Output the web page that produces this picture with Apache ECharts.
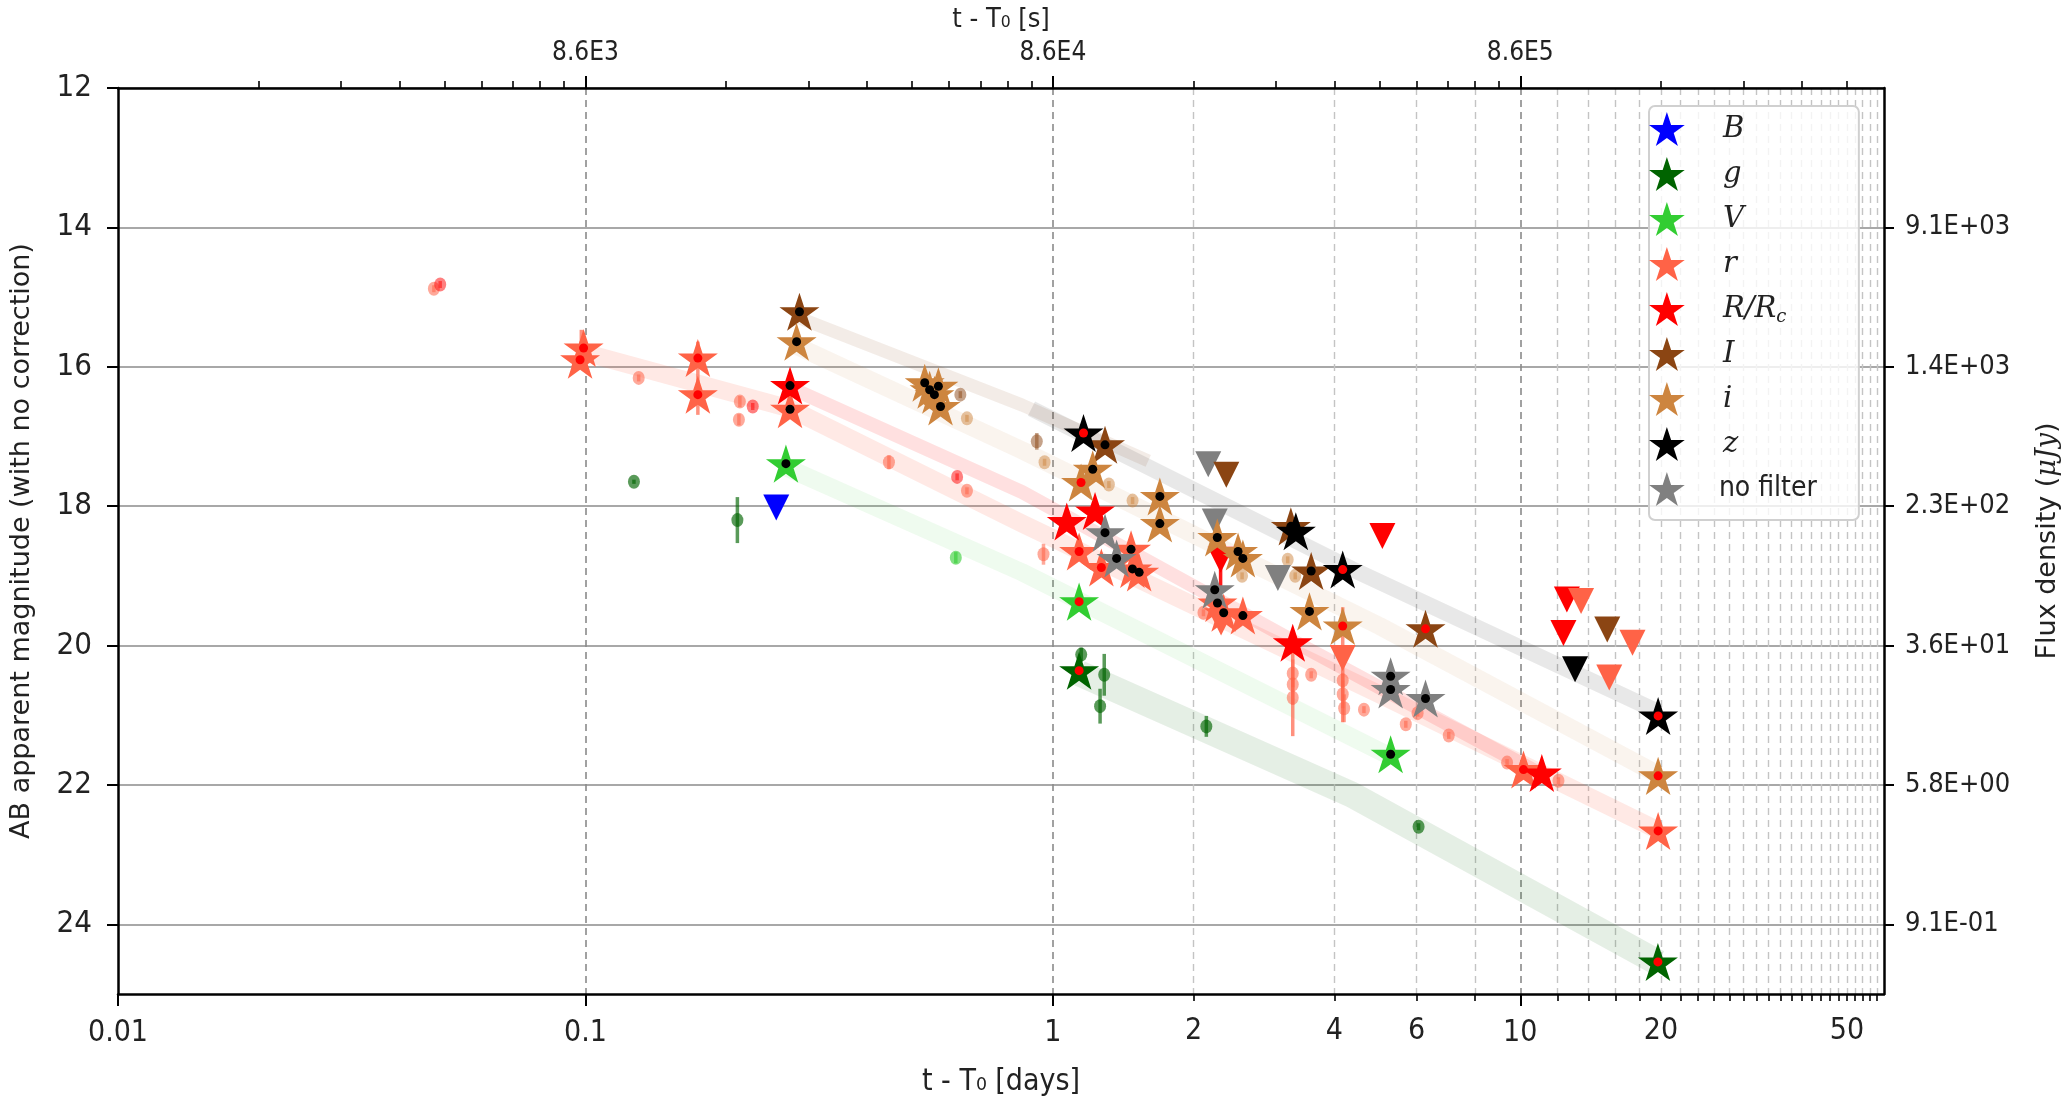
<!DOCTYPE html>
<html><head><meta charset="utf-8">
<script src="https://cdn.jsdelivr.net/npm/echarts@6/dist/echarts.min.js"></script>
<style>html,body{margin:0;padding:0;background:#fff}#c{width:2070px;height:1105px}</style>
</head><body><div id="c"></div>
<script>
// ---------------- DATA ----------------
// axis ticks / labels (t in days)
const xMajorTicks = [0.01, 0.1, 1, 10];
const xMajorLabels = ['0.01', '0.1', '1', '10'];
const xMinorTicks = [2,4,6,8,10,12,14,16,18,20,22,24,26,28,30,32,34,36,38,40,42,44,46,48,50,52,54,56,58];
const xMinorLabelValues = [2, 4, 6, 20, 50];
const xMinorLabels = ['2', '4', '6', '20', '50'];
const topMajorTicks = [0.1, 1, 10];
const topMajorLabels = ['8.6E3', '8.6E4', '8.6E5'];
const topMinorTicks = [0.02,0.03,0.04,0.05,0.06,0.07,0.08,0.09,0.2,0.3,0.4,0.5,0.6,0.7,0.8,0.9,2,3,4,5,6,7,8,9,20,30,40,50];
const gridMajorX = [0.1, 1, 10];
const gridMinorX = [2,4,6,8,12,14,16,18,20,22,24,26,28,30,32,34,36,38,40,42,44,46,48,50,52,54,56,58];
const yTicks = [12, 14, 16, 18, 20, 22, 24];
const fluxTicks = [14, 16, 18, 20, 22, 24];
const fluxLabels = ['9.1E+03', '1.4E+03', '2.3E+02', '3.6E+01', '5.8E+00', '9.1E-01'];

// stars: [t_days, mag, centreDot (0 black, 1 red)]
const starsB = [];
const starsg = [[1.138,20.36,1],[19.7,24.54,1]];
const starsV = [[0.2685,17.39,0],[1.138,19.37,1],[5.28,21.56,0]];
const starsr = [[0.0974,15.90,1],[0.0991,15.73,1],[0.174,15.875,1],[0.174,16.40,1],[0.274,16.61,0],
  [1.138,18.65,1],[1.27,18.88,1],[1.47,18.62,0],[1.48,18.90,0],[1.53,18.95,0],
  [2.25,19.39,0],[2.32,19.53,0],[2.55,19.57,0],[10.16,21.78,1],[19.72,22.66,1]];
const starsR = [[0.274,16.27,0],[1.071,18.22,1],[1.231,18.07,1],[3.26,19.96,1],[11.12,21.83,1]];
const starsI = [[0.287,15.21,0],[1.293,17.12,0],[3.23,18.29,0],[3.57,18.93,0],[6.27,19.76,1]];
const starsi = [[0.283,15.64,0],[0.532,16.23,0],[0.545,16.33,0],[0.558,16.40,0],[0.569,16.28,0],[0.575,16.57,0],
  [1.217,17.47,0],[1.149,17.66,1],[1.694,17.86,0],[1.694,18.25,0],[2.248,18.45,0],[2.49,18.65,0],[2.55,18.75,0],
  [3.54,19.51,0],[4.17,19.72,1],[19.72,21.87,1]];
const starsz = [[1.163,16.95,1],[3.31,18.36,0],[4.17,18.91,1],[19.72,21.01,1]];
const starsNF = [[1.293,18.38,0],[1.369,18.75,0],[2.22,19.20,0],[5.28,20.44,0],[5.28,20.63,0],[6.27,20.76,0]];

// upper limits (triangles): [t_days, mag]
const limB = [[0.256,18.02]];
const limNF = [[2.15,17.40],[2.22,18.22],[3.03,19.03]];
const limI = [[2.35,17.55],[15.35,19.77]];
const limR = [[2.285,18.77],[5.07,18.43],[12.58,19.34],[12.37,19.82]];
const limr = [[2.29,19.67],[4.17,20.18],[13.49,19.36],[17.38,19.96],[15.5,20.46]];
const limz = [[13.1,20.34]];

// other measurements (small points): [t_days, mag, err]
const ptsr = [[0.0474,14.88,0.05],[0.130,16.16,0.05],[0.214,16.50,0.08],[0.213,16.76,0.08],[0.446,17.37,0.1],
  [0.655,17.78,0.05],[0.955,18.69,0.15],[2.10,19.53,0.05],[3.26,20.40,0.2],[3.26,20.56,0.1],[3.26,20.75,0.1],
  [3.57,20.42,0.05],[4.17,20.50,0.1],[4.17,20.70,0.2],[4.2,20.90,0.2],[4.63,20.92,0.05],[5.69,21.13,0.05],
  [6.03,20.97,0.05],[7.03,21.29,0.05],[9.37,21.68,0.05],[12.07,21.94,0.05]];
const ptsR = [[0.0489,14.82,0.05],[0.228,16.57,0.05],[0.624,17.58,0.05]];
const ptsi = [[0.655,16.74,0.05],[0.960,17.37,0.05],[1.318,17.69,0.05],[1.481,17.92,0.05],[2.54,19.0,0.05],[3.18,18.77,0.05],[3.3,19.0,0.05]];
const ptsI = [[0.634,16.40,0.05],[0.924,17.07,0.12]];
const ptsV = [[0.620,18.74,0.08]];
const ptsg = [[0.127,17.65,0.03],[0.2114,18.20,0.33],[1.15,20.13,0.1],[1.288,20.42,0.3],[1.262,20.87,0.25],[2.13,21.16,0.15],[6.06,22.60,0.05]];

// extra error bars: [t_days, magTop, magBottom]
const barsr = [[0.098,15.47,16.0],[0.174,15.64,16.69],[3.26,20.0,21.3],[4.17,19.45,21.1]];
const barsR = [[2.285,18.65,19.25]];

// fitted decay bands: [t_days, mag]
const bandg = [[1.14,20.4],[4.36,22.14],[19.7,24.55]];
const bandV = [[0.27,17.45],[0.86,18.95],[5.3,21.6]];
const bandr = [[0.1,15.8],[0.274,16.6],[0.86,18.25],[5.0,20.7],[19.7,22.65]];
const bandR = [[0.274,16.3],[0.86,17.8],[3.3,19.95],[11.1,21.85]];
const bandI = [[0.287,15.3],[0.86,16.55],[1.6,17.35]];
const bandi = [[0.283,15.7],[0.86,17.2],[5.0,19.72],[19.7,21.85]];
const bandz = [[0.9,16.6],[4.36,18.9],[19.7,20.95]];

// ---------------- STYLE ----------------
const col = {B:'#0000ff', g:'#006400', V:'#32cd32', r:'#ff6347', R:'#ff0000', I:'#8b4513', i:'#cd853f', z:'#000000', nf:'#808080'};
function rgba(hex, a){const n=parseInt(hex.slice(1),16);return 'rgba('+((n>>16)&255)+','+((n>>8)&255)+','+(n&255)+','+a+')';}
const starPath = (function(){let s='path://';for(let k=0;k<10;k++){const a=(-90+k*36)*Math.PI/180;const rr=(k%2===0)?100:38.2;s+=(k===0?'M':'L')+(rr*Math.cos(a)).toFixed(2)+','+(rr*Math.sin(a)).toFixed(2)+' ';}return s+'Z';})();
const triPath = 'path://M-100,-100 L100,-100 L0,100 Z';
const tickFont = "'DejaVu Sans Condensed','DejaVu Sans',sans-serif";
const txt = '#222';

function lookup(vals, labels){return function(v){for(let k=0;k<vals.length;k++){if(Math.abs(Math.log10(v)-Math.log10(vals[k]))<1e-6)return labels[k];}return '';};}

const series = [];
// bands
const bands = [[bandg,col.g,0.10,26],[bandV,col.V,0.08,18],[bandr,col.r,0.14,18],[bandR,col.R,0.12,14],[bandI,col.I,0.10,13],[bandi,col.i,0.09,18],[bandz,col.z,0.09,16]];
bands.forEach(function(b,k){
  const s = {type:'line', data:b[0], showSymbol:false, symbol:'none', silent:true, z:1,
    lineStyle:{color:rgba(b[1],b[2]), width:b[3], cap:'butt', join:'round'}, animation:false};
  if(k===0){
    s.markLine = {silent:true, symbol:'none', label:{show:false}, animation:false, z:0,
      data: gridMajorX.map(function(v){return {xAxis:v, lineStyle:{color:'#8a8a8a', type:[7,5], width:1.6}};})
        .concat(gridMinorX.map(function(v){return {xAxis:v, lineStyle:{color:'#c4c4c4', type:[7,5], width:1.4}};}))};
  }
  series.push(s);
});
// error bars
function errRender(params, api){
  const p1 = api.coord([api.value(0), api.value(1)]);
  const p2 = api.coord([api.value(0), api.value(2)]);
  return {type:'line', shape:{x1:p1[0],y1:p1[1],x2:p2[0],y2:p2[1]}, style:{stroke:api.visual('color'), lineWidth:3.5}};
}
const ptSets = [[ptsr,col.r,0.55],[ptsR,col.R,0.5],[ptsi,col.i,0.5],[ptsI,col.I,0.5],[ptsV,col.V,0.6],[ptsg,col.g,0.65]];
ptSets.forEach(function(p){
  series.push({type:'custom', renderItem:errRender, silent:true, z:2, itemStyle:{color:rgba(p[1],p[2])},
    data:p[0].map(function(d){return [d[0], d[1]-d[2], d[1]+d[2]];}), animation:false});
});
[[barsr,col.r,0.7],[barsR,col.R,0.9]].forEach(function(p){
  series.push({type:'custom', renderItem:errRender, silent:true, z:2, itemStyle:{color:rgba(p[1],p[2])}, data:p[0], animation:false});
});
ptSets.forEach(function(p){
  series.push({type:'scatter', symbol:'circle', symbolSize:[12,14], silent:true, z:3,
    itemStyle:{color:rgba(p[1],p[2]), opacity:1}, data:p[0].map(function(d){return [d[0],d[1]];}), animation:false});
});
// upper limits
[[limB,col.B],[limNF,col.nf],[limI,col.I],[limR,col.R],[limr,col.r],[limz,col.z]].forEach(function(p){
  series.push({type:'scatter', symbol:triPath, symbolSize:[26,26], silent:true, z:4,
    itemStyle:{color:p[1], opacity:1}, data:p[0], animation:false});
});
// stars
const starSets = [['B',starsB,col.B],['g',starsg,col.g],['V',starsV,col.V],['r',starsr,col.r],['R/Rc',starsR,col.R],
  ['I',starsI,col.I],['i',starsi,col.i],['z',starsz,col.z],['no filter',starsNF,col.nf]];
const dots = [];
starSets.forEach(function(s){
  series.push({name:s[0], type:'scatter', symbol:starPath, symbolKeepAspect:true, symbolSize:40, z:5, silent:true,
    itemStyle:{color:s[2], opacity:1}, data:s[1].map(function(d){return [d[0],d[1]];}), animation:false});
  s[1].forEach(function(d){dots.push({value:[d[0],d[1]], itemStyle:{color:d[2]?'#ff0000':'#000000', opacity:1}});});
});
series.push({type:'scatter', symbol:'circle', symbolSize:9, z:6, silent:true, itemStyle:{opacity:1}, data:dots, animation:false});

const legendText = {'B':'{it|B}','g':'{it|g}','V':'{it|V}','r':'{it|r}','R/Rc':'{it|R/R}{sub|c}','I':'{it|I}','i':'{it|i}','z':'{it|z}','no filter':'{nf|no filter}'};

const axisLineStyle = {color:'#000', width:2.5};
const option = {
  animation:false,
  backgroundColor:'#fff',
  grid:{left:113, right:186, top:88, bottom:111, containLabel:false},
  legend:{
    orient:'vertical', left:1649, top:106, padding:[6,42,14,0], itemWidth:86, itemHeight:34, itemGap:11,
    backgroundColor:'rgba(255,255,255,0.8)', borderColor:'#d0d0d0', borderWidth:2, borderRadius:6,
    selectedMode:false, z:20,
    data: starSets.map(function(s){return {name:s[0], icon:starPath, itemStyle:{color:s[2], opacity:1}};}),
    formatter:function(n){return legendText[n];},
    textStyle:{color:txt, lineHeight:34,
      rich:{it:{fontFamily:"'DejaVu Serif','Liberation Serif',serif", fontStyle:'italic', fontSize:29, lineHeight:34, padding:[0,0,0,8], color:txt},
            sub:{fontFamily:"'DejaVu Serif','Liberation Serif',serif", fontStyle:'italic', fontSize:18, lineHeight:34, verticalAlign:'bottom', color:txt},
            nf:{fontFamily:tickFont, fontSize:28, lineHeight:34, padding:[0,0,0,4], color:txt}}}
  },
  xAxis:[
    {type:'log', logBase:10, min:0.01, max:60, position:'bottom',
     name:'t - T₀ [days]', nameLocation:'middle', nameGap:73, nameTextStyle:{fontFamily:tickFont, fontSize:30, color:txt},
     axisLine:{show:true, lineStyle:axisLineStyle}, splitLine:{show:false}, minorTick:{show:false},
     axisTick:{show:true, inside:false, length:12, lineStyle:{color:'#000', width:2}, customValues:xMajorTicks},
     axisLabel:{show:true, margin:24, fontFamily:tickFont, fontSize:30, color:txt, customValues:xMajorTicks, formatter:lookup(xMajorTicks,xMajorLabels)}},
    {type:'log', logBase:10, min:0.01, max:60, position:'bottom',
     axisLine:{show:false}, splitLine:{show:false},
     axisTick:{show:true, inside:false, length:7, lineStyle:{color:'#000', width:1.6}, customValues:xMinorTicks},
     axisLabel:{show:true, margin:22, fontFamily:tickFont, fontSize:30, color:txt, customValues:xMinorLabelValues, formatter:lookup(xMinorLabelValues,xMinorLabels)}},
    {type:'log', logBase:10, min:0.01, max:60, position:'top',
     name:'t - T₀ [s]', nameLocation:'middle', nameGap:55, nameTextStyle:{fontFamily:tickFont, fontSize:27, color:txt},
     axisLine:{show:true, lineStyle:axisLineStyle}, splitLine:{show:false},
     axisTick:{show:true, inside:false, length:12, lineStyle:{color:'#000', width:2}, customValues:topMajorTicks},
     axisLabel:{show:true, margin:22, fontFamily:tickFont, fontSize:26, color:txt, customValues:topMajorTicks, formatter:lookup(topMajorTicks,topMajorLabels)}},
    {type:'log', logBase:10, min:0.01, max:60, position:'top',
     axisLine:{show:false}, splitLine:{show:false},
     axisTick:{show:true, inside:false, length:7, lineStyle:{color:'#000', width:1.6}, customValues:topMinorTicks},
     axisLabel:{show:false}}
  ],
  yAxis:[
    {type:'value', inverse:true, min:12, max:25, interval:2, position:'left',
     name:'AB apparent magnitude (with no correction)', nameLocation:'middle', nameRotate:90, nameGap:83,
     nameTextStyle:{fontFamily:"'DejaVu Sans',sans-serif", fontSize:27, color:txt},
     axisLine:{show:true, lineStyle:axisLineStyle},
     axisTick:{show:true, inside:false, length:11, lineStyle:{color:'#000', width:2}, customValues:yTicks},
     axisLabel:{show:true, margin:26, fontFamily:tickFont, fontSize:31, color:txt, customValues:yTicks},
     splitLine:{show:true, lineStyle:{color:'#a8a8a8', width:2}}},
    {type:'value', inverse:true, min:12, max:25, interval:2, position:'right',
     name:'{n|Flux density (}{m|μJy}{n|)}', nameLocation:'middle', nameRotate:90, nameGap:150,
     nameTextStyle:{rich:{n:{fontFamily:"'DejaVu Sans',sans-serif", fontSize:27, color:txt}, m:{fontFamily:"'DejaVu Serif',serif", fontStyle:'italic', fontSize:27, color:txt}}},
     axisLine:{show:true, lineStyle:axisLineStyle},
     axisTick:{show:true, inside:false, length:10, lineStyle:{color:'#000', width:2}, customValues:fluxTicks},
     axisLabel:{show:true, margin:21, fontFamily:tickFont, fontSize:27, color:txt, customValues:fluxTicks,
       formatter:function(v){const k=fluxTicks.indexOf(v);return k<0?'':fluxLabels[k];}},
     splitLine:{show:false}}
  ],
  series:series
};
const chart = echarts.init(document.getElementById('c'), null, {width:2070, height:1105});
chart.setOption(option);
</script></body></html>
